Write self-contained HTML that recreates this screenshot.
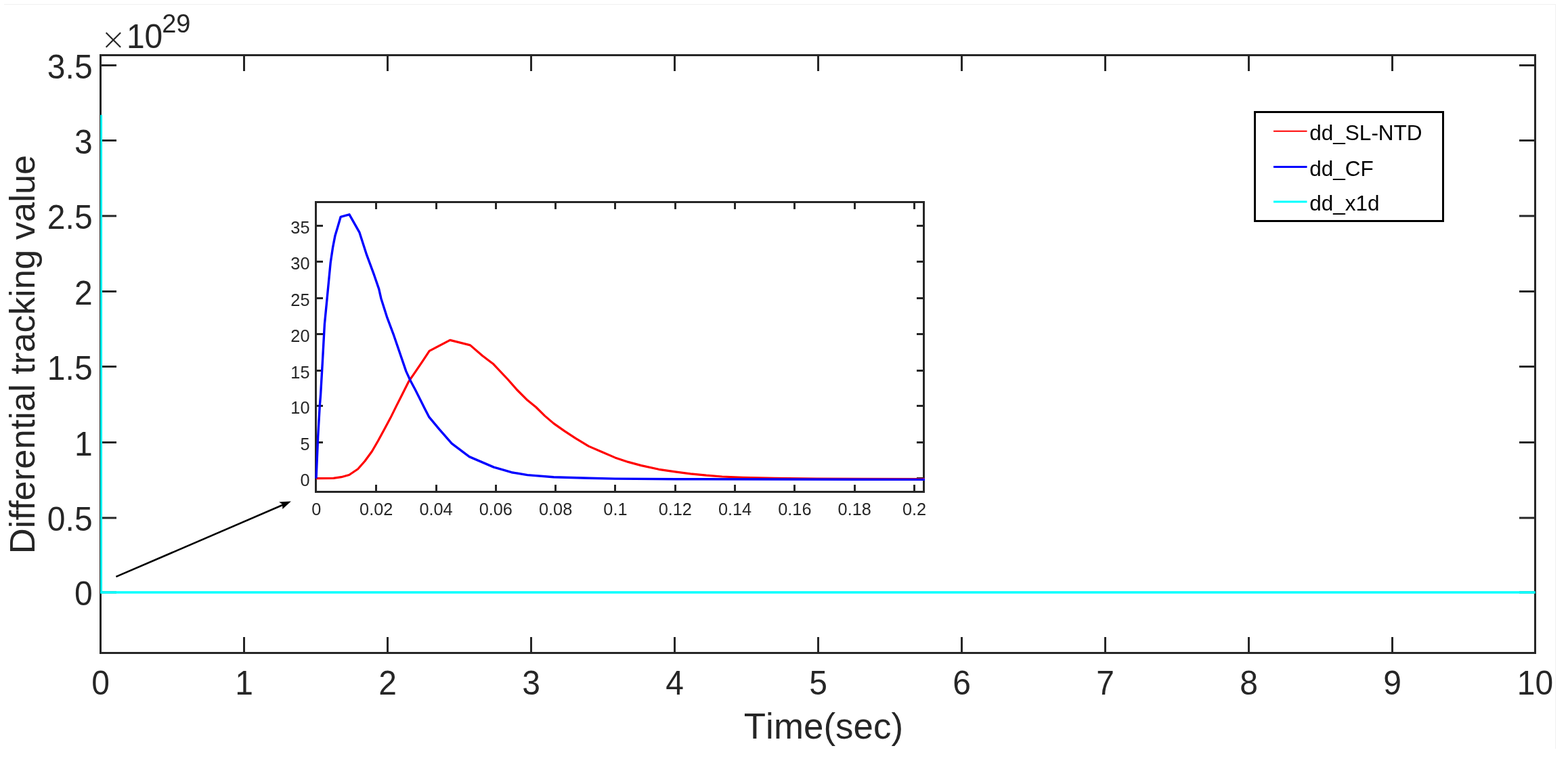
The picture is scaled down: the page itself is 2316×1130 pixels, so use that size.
<!DOCTYPE html>
<html lang="en"><head><meta charset="utf-8"><title>Differential tracking value</title>
<style>html,body{margin:0;padding:0;background:#fff;}body{width:2316px;height:1130px;overflow:hidden;}svg{display:block;}text{font-family:"Liberation Sans", Arial, Helvetica, sans-serif;font-kerning:none;font-variant-ligatures:none;}</style></head><body>
<svg width="2316" height="1130" viewBox="0 0 2316 1130" role="img" aria-label="Differential tracking value versus time">
<rect x="0" y="0" width="2316" height="1130" fill="#ffffff"/>
<g stroke="#f0f0f0" stroke-width="1" fill="none"><line x1="6" y1="6.5" x2="2298" y2="6.5"/><line x1="2297.5" y1="6" x2="2297.5" y2="1106"/></g>
<g stroke="#262626" stroke-width="3" fill="none" stroke-linecap="butt">
<rect x="148.5" y="81.5" width="2119.0" height="883.0"/>
<line x1="360.5" y1="964.5" x2="360.5" y2="941"/>
<line x1="360.5" y1="81.5" x2="360.5" y2="105"/>
<line x1="572.5" y1="964.5" x2="572.5" y2="941"/>
<line x1="572.5" y1="81.5" x2="572.5" y2="105"/>
<line x1="784.5" y1="964.5" x2="784.5" y2="941"/>
<line x1="784.5" y1="81.5" x2="784.5" y2="105"/>
<line x1="996.5" y1="964.5" x2="996.5" y2="941"/>
<line x1="996.5" y1="81.5" x2="996.5" y2="105"/>
<line x1="1208.5" y1="964.5" x2="1208.5" y2="941"/>
<line x1="1208.5" y1="81.5" x2="1208.5" y2="105"/>
<line x1="1420.5" y1="964.5" x2="1420.5" y2="941"/>
<line x1="1420.5" y1="81.5" x2="1420.5" y2="105"/>
<line x1="1632.5" y1="964.5" x2="1632.5" y2="941"/>
<line x1="1632.5" y1="81.5" x2="1632.5" y2="105"/>
<line x1="1844.5" y1="964.5" x2="1844.5" y2="941"/>
<line x1="1844.5" y1="81.5" x2="1844.5" y2="105"/>
<line x1="2056.5" y1="964.5" x2="2056.5" y2="941"/>
<line x1="2056.5" y1="81.5" x2="2056.5" y2="105"/>
<line x1="148.5" y1="875" x2="172" y2="875"/>
<line x1="2267.5" y1="875" x2="2244" y2="875"/>
<line x1="148.5" y1="765" x2="172" y2="765"/>
<line x1="2267.5" y1="765" x2="2244" y2="765"/>
<line x1="148.5" y1="653.5" x2="172" y2="653.5"/>
<line x1="2267.5" y1="653.5" x2="2244" y2="653.5"/>
<line x1="148.5" y1="541.5" x2="172" y2="541.5"/>
<line x1="2267.5" y1="541.5" x2="2244" y2="541.5"/>
<line x1="148.5" y1="430.5" x2="172" y2="430.5"/>
<line x1="2267.5" y1="430.5" x2="2244" y2="430.5"/>
<line x1="148.5" y1="319" x2="172" y2="319"/>
<line x1="2267.5" y1="319" x2="2244" y2="319"/>
<line x1="148.5" y1="207.5" x2="172" y2="207.5"/>
<line x1="2267.5" y1="207.5" x2="2244" y2="207.5"/>
<line x1="148.5" y1="96.5" x2="172" y2="96.5"/>
<line x1="2267.5" y1="96.5" x2="2244" y2="96.5"/>
</g>
<g stroke="#00ffff" fill="none"><line x1="149.6" y1="169.7" x2="149.6" y2="876.6" stroke-width="2.9"/><line x1="148.15" y1="875" x2="2267.8" y2="875" stroke-width="3.3"/></g>
<g fill="#262626" font-size="48px">
<text transform="translate(148.5,1025.8) scale(1,1.03)" text-anchor="middle">0</text>
<text transform="translate(360.5,1025.8) scale(1,1.03)" text-anchor="middle">1</text>
<text transform="translate(572.5,1025.8) scale(1,1.03)" text-anchor="middle">2</text>
<text transform="translate(784.5,1025.8) scale(1,1.03)" text-anchor="middle">3</text>
<text transform="translate(996.5,1025.8) scale(1,1.03)" text-anchor="middle">4</text>
<text transform="translate(1208.5,1025.8) scale(1,1.03)" text-anchor="middle">5</text>
<text transform="translate(1420.5,1025.8) scale(1,1.03)" text-anchor="middle">6</text>
<text transform="translate(1632.5,1025.8) scale(1,1.03)" text-anchor="middle">7</text>
<text transform="translate(1844.5,1025.8) scale(1,1.03)" text-anchor="middle">8</text>
<text transform="translate(2056.5,1025.8) scale(1,1.03)" text-anchor="middle">9</text>
<text transform="translate(2267.5,1025.8) scale(1,1.03)" text-anchor="middle">10</text>
<text transform="translate(136.6,894.4) scale(1,1.03)" text-anchor="end">0</text>
<text transform="translate(136.6,784.4) scale(1,1.03)" text-anchor="end">0.5</text>
<text transform="translate(136.6,672.9) scale(1,1.03)" text-anchor="end">1</text>
<text transform="translate(136.6,560.9) scale(1,1.03)" text-anchor="end">1.5</text>
<text transform="translate(136.6,449.9) scale(1,1.03)" text-anchor="end">2</text>
<text transform="translate(136.6,338.4) scale(1,1.03)" text-anchor="end">2.5</text>
<text transform="translate(136.6,226.9) scale(1,1.03)" text-anchor="end">3</text>
<text transform="translate(136.6,115.9) scale(1,1.03)" text-anchor="end">3.5</text>
<text transform="translate(186.9,71.2) scale(1,1.03)">10</text>
<text transform="translate(239.2,48.3) scale(1,1.03)" font-size="38px">29</text>
<text x="167.5" y="72.7" font-size="44.5px" font-weight="200" text-anchor="middle" style="font-family:'DejaVu Sans',sans-serif">×</text>
</g>
<text x="1098.8" y="1091" font-size="52.8px" letter-spacing="0.07" fill="#262626">Time(sec)</text>
<text transform="translate(50.8,523.45) rotate(-90)" text-anchor="middle" font-size="52.5px" fill="#262626">Differential tracking value</text>
<rect x="466.5" y="298.5" width="898.0" height="428.0" fill="#ffffff" stroke="none"/>
<g stroke="#262626" stroke-width="3" fill="none">
<rect x="466.5" y="298.5" width="898.0" height="428.0"/>
<line x1="555.5" y1="726.5" x2="555.5" y2="716"/>
<line x1="555.5" y1="298.5" x2="555.5" y2="309"/>
<line x1="644.5" y1="726.5" x2="644.5" y2="716"/>
<line x1="644.5" y1="298.5" x2="644.5" y2="309"/>
<line x1="732.5" y1="726.5" x2="732.5" y2="716"/>
<line x1="732.5" y1="298.5" x2="732.5" y2="309"/>
<line x1="820.5" y1="726.5" x2="820.5" y2="716"/>
<line x1="820.5" y1="298.5" x2="820.5" y2="309"/>
<line x1="908.5" y1="726.5" x2="908.5" y2="716"/>
<line x1="908.5" y1="298.5" x2="908.5" y2="309"/>
<line x1="997.5" y1="726.5" x2="997.5" y2="716"/>
<line x1="997.5" y1="298.5" x2="997.5" y2="309"/>
<line x1="1085.5" y1="726.5" x2="1085.5" y2="716"/>
<line x1="1085.5" y1="298.5" x2="1085.5" y2="309"/>
<line x1="1173.5" y1="726.5" x2="1173.5" y2="716"/>
<line x1="1173.5" y1="298.5" x2="1173.5" y2="309"/>
<line x1="1262.5" y1="726.5" x2="1262.5" y2="716"/>
<line x1="1262.5" y1="298.5" x2="1262.5" y2="309"/>
<line x1="1350.5" y1="726.5" x2="1350.5" y2="716"/>
<line x1="1350.5" y1="298.5" x2="1350.5" y2="309"/>
<line x1="466.5" y1="706.5" x2="477" y2="706.5"/>
<line x1="1364.5" y1="706.5" x2="1354" y2="706.5"/>
<line x1="466.5" y1="653.5" x2="477" y2="653.5"/>
<line x1="1364.5" y1="653.5" x2="1354" y2="653.5"/>
<line x1="466.5" y1="599.5" x2="477" y2="599.5"/>
<line x1="1364.5" y1="599.5" x2="1354" y2="599.5"/>
<line x1="466.5" y1="547.5" x2="477" y2="547.5"/>
<line x1="1364.5" y1="547.5" x2="1354" y2="547.5"/>
<line x1="466.5" y1="493.5" x2="477" y2="493.5"/>
<line x1="1364.5" y1="493.5" x2="1354" y2="493.5"/>
<line x1="466.5" y1="440.5" x2="477" y2="440.5"/>
<line x1="1364.5" y1="440.5" x2="1354" y2="440.5"/>
<line x1="466.5" y1="386.5" x2="477" y2="386.5"/>
<line x1="1364.5" y1="386.5" x2="1354" y2="386.5"/>
<line x1="466.5" y1="333.5" x2="477" y2="333.5"/>
<line x1="1364.5" y1="333.5" x2="1354" y2="333.5"/>
</g>
<clipPath id="ic"><rect x="465" y="297" width="901" height="431"/></clipPath>
<g clip-path="url(#ic)" fill="none" stroke-linejoin="round" stroke-linecap="butt">
<polyline points="466.9,706.7 492.4,706.3 504.0,704.7 515.7,701.5 528.7,692.7 539.0,681.0 549.4,666.8 558.4,651.2 567.5,634.4 576.6,617.6 585.6,599.4 592.4,586.0 603.3,564.2 613.1,549.8 624.3,533.3 634.2,518.4 664.7,502.4 694.5,509.9 712.6,525.5 728.1,537.2 749.7,560.0 763.3,575.5 778.9,591.1 791.8,601.5 804.8,614.4 817.7,625.4 833.3,636.4 850.1,647.4 869.5,659.1 888.9,667.5 908.4,675.9 927.8,682.4 947.2,687.6 973.1,693.3 999.0,697.1 1020.0,699.8 1043.3,702.2 1066.6,704.0 1097.7,705.3 1144.4,706.4 1206.5,707.2 1366.0,707.6" stroke="#ff0000" stroke-width="3.2"/>
<polyline points="466.9,706.7 467.1,705.6 469.7,644.8 472.3,599.4 473.6,583.0 476.6,530.7 479.4,478.9 482.9,443.0 488.2,388.1 491.7,364.8 495.0,347.9 498.9,335.0 503.2,320.3 516.0,316.8 531.0,343.4 541.6,376.4 552.6,406.2 559.7,426.9 562.9,441.0 571.4,467.8 581.8,495.7 599.8,548.4 605.8,561.5 613.3,575.5 621.1,590.9 627.7,604.2 633.9,616.2 649.1,634.4 667.3,655.1 693.2,674.6 729.4,690.1 740.0,693.2 755.5,697.7 778.9,701.6 817.7,704.8 869.5,706.3 908.4,707.1 999.1,707.7 1040.0,707.8 1366.0,708.4" stroke="#0000ff" stroke-width="3.4"/>
</g>
<g fill="#262626" font-size="25.3px">
<text transform="translate(467.4,760.8) scale(1,1.03)" text-anchor="middle">0</text>
<text transform="translate(555.71,760.8) scale(1,1.03)" text-anchor="middle">0.02</text>
<text transform="translate(644.02,760.8) scale(1,1.03)" text-anchor="middle">0.04</text>
<text transform="translate(732.33,760.8) scale(1,1.03)" text-anchor="middle">0.06</text>
<text transform="translate(820.64,760.8) scale(1,1.03)" text-anchor="middle">0.08</text>
<text transform="translate(908.95,760.8) scale(1,1.03)" text-anchor="middle">0.1</text>
<text transform="translate(997.26,760.8) scale(1,1.03)" text-anchor="middle">0.12</text>
<text transform="translate(1085.57,760.8) scale(1,1.03)" text-anchor="middle">0.14</text>
<text transform="translate(1173.88,760.8) scale(1,1.03)" text-anchor="middle">0.16</text>
<text transform="translate(1262.19,760.8) scale(1,1.03)" text-anchor="middle">0.18</text>
<text transform="translate(1350.5,760.8) scale(1,1.03)" text-anchor="middle">0.2</text>
<text transform="translate(457.5,717.8) scale(1,1.03)" text-anchor="end">0</text>
<text transform="translate(457.5,664.8) scale(1,1.03)" text-anchor="end">5</text>
<text transform="translate(457.5,610.8) scale(1,1.03)" text-anchor="end">10</text>
<text transform="translate(457.5,558.8) scale(1,1.03)" text-anchor="end">15</text>
<text transform="translate(457.5,504.8) scale(1,1.03)" text-anchor="end">20</text>
<text transform="translate(457.5,451.8) scale(1,1.03)" text-anchor="end">25</text>
<text transform="translate(457.5,397.8) scale(1,1.03)" text-anchor="end">30</text>
<text transform="translate(457.5,344.8) scale(1,1.03)" text-anchor="end">35</text>
</g>
<g fill="#000000" stroke="#000000">
<line x1="171.4" y1="851.9" x2="419" y2="745.3" stroke-width="2.6"/>
<polygon points="429.9,740.6 412.1,741.6 417.2,745 417.3,752.1" stroke="none"/>
</g>
<rect x="1853.5" y="165.5" width="278" height="161" fill="#ffffff" stroke="#000000" stroke-width="3"/>
<line x1="1881" y1="193.75" x2="1930.5" y2="193.75" stroke="#ff0000" stroke-width="2.2"/>
<text x="1934.3" y="206.95" font-size="31.5px" fill="#000000">dd_SL-NTD</text>
<line x1="1881" y1="246.4" x2="1930.5" y2="246.4" stroke="#0000ff" stroke-width="3"/>
<text x="1934.3" y="259.6" font-size="31.5px" fill="#000000">dd_CF</text>
<line x1="1881" y1="298" x2="1930.5" y2="298" stroke="#00ffff" stroke-width="3"/>
<text x="1934.3" y="311.2" font-size="31.5px" fill="#000000">dd_x1d</text>
</svg></body></html>
